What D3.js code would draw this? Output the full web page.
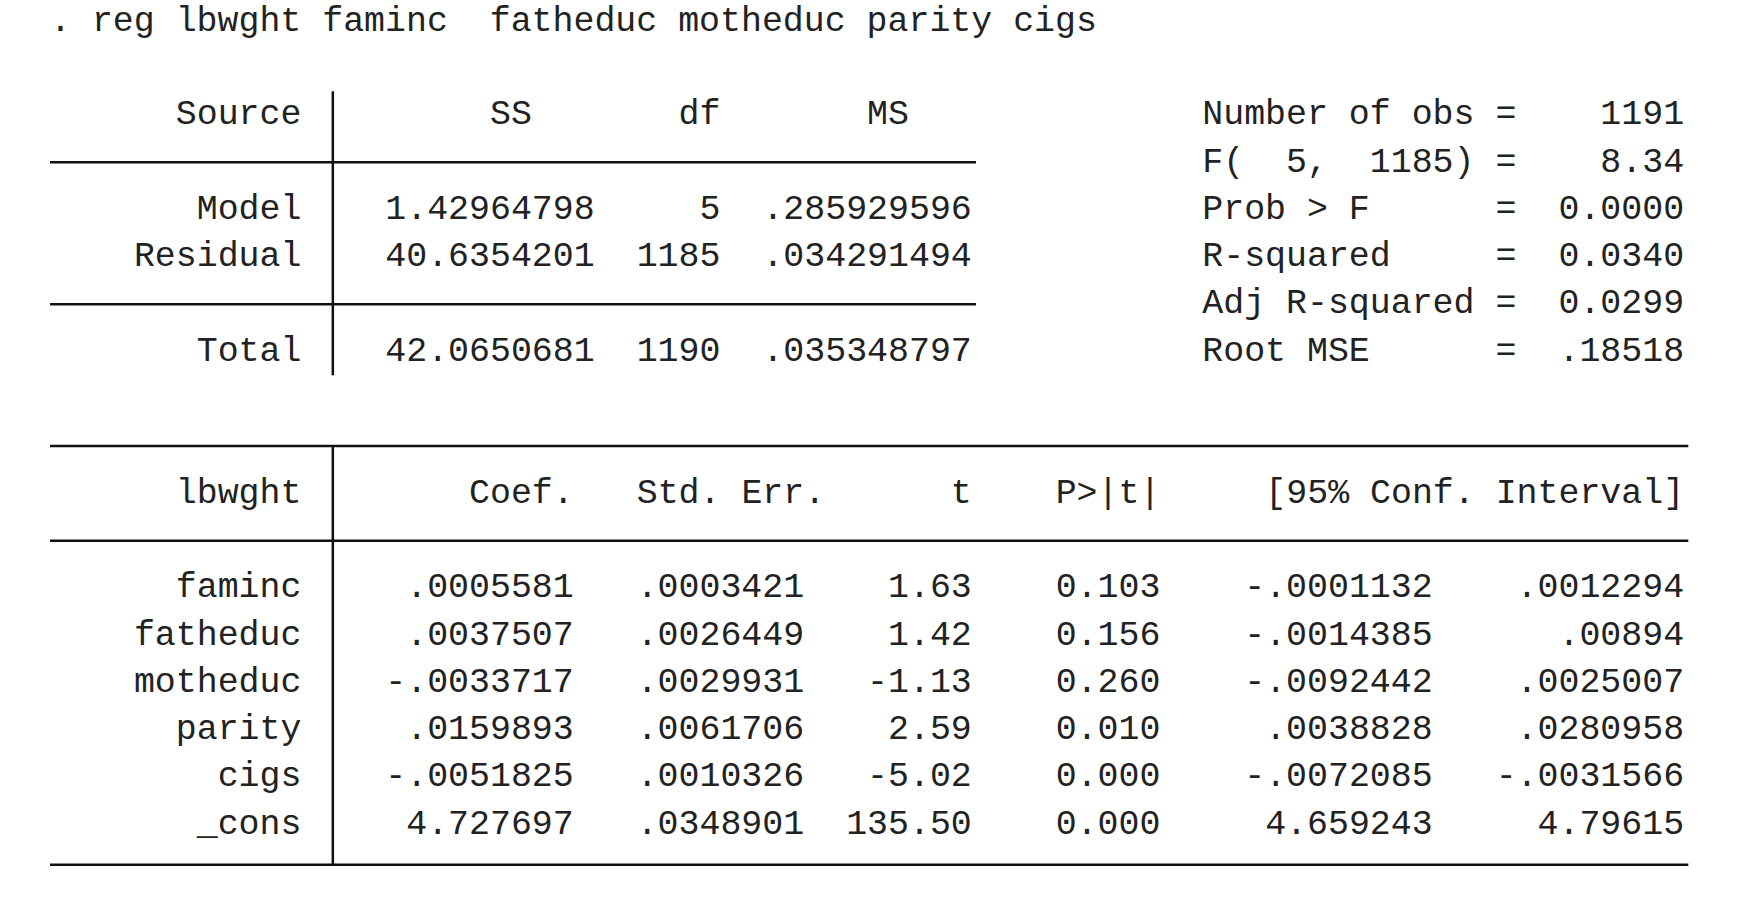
<!DOCTYPE html>
<html><head><meta charset="utf-8">
<script src="https://cdn.jsdelivr.net/npm/d3@7"></script>
<style>
body{margin:0;background:#fff;}
text{font-family:"Courier New","Liberation Mono",monospace;font-size:34.9px;fill:#222;white-space:pre;}
</style></head><body>
<svg id="c" width="1742" height="918"></svg>
<script>
var command = ". reg lbwght faminc  fatheduc motheduc parity cigs";

var anovaSources = ["Model", "Residual", "Total"];
var anovaSS = ["1.42964798", "40.6354201", "42.0650681"];
var anovaDF = ["5", "1185", "1190"];
var anovaMS = [".285929596", ".034291494", ".035348797"];

var statLabels = ["Number of obs =", "F(  5,  1185) =", "Prob > F      =", "R-squared     =", "Adj R-squared =", "Root MSE      ="];
var statValues = ["1191", "8.34", "0.0000", "0.0340", "0.0299", ".18518"];

var coefNames = ["faminc", "fatheduc", "motheduc", "parity", "cigs", "_cons"];
var coef = [".0005581", ".0037507", "-.0033717", ".0159893", "-.0051825", "4.727697"];
var stdErr = [".0003421", ".0026449", ".0029931", ".0061706", ".0010326", ".0348901"];
var tStat = ["1.63", "1.42", "-1.13", "2.59", "-5.02", "135.50"];
var pVal = ["0.103", "0.156", "0.260", "0.010", "0.000", "0.000"];
var ciLow = ["-.0001132", "-.0014385", "-.0092442", ".0038828", "-.0072085", "4.659243"];
var ciHigh = [".0012294", ".00894", ".0025007", ".0280958", "-.0031566", "4.79615"];

var svg = d3.select("#c");
// monospace column grid -> pixels
var col = d3.scaleLinear().domain([0, 78]).range([50, 50 + 78 * 20.95]);
// text line grid -> pixels
var row = d3.scaleLinear().domain([0, 1]).range([115, 162.3]);

function put(txt, c, r, anchor){
  svg.append("text").attr("x", col(c)).attr("y", row(r))
    .attr("dominant-baseline", "middle")
    .attr("text-anchor", anchor || "end").text(txt);
}
function hline(c0, c1, r){
  svg.append("line").attr("x1", col(c0)).attr("x2", col(c1))
    .attr("y1", row(r)).attr("y2", row(r)).attr("stroke", "#111").attr("stroke-width", 2.5);
}
function vline(c, r0, r1){
  svg.append("line").attr("x1", col(c)).attr("x2", col(c))
    .attr("y1", row(r0)).attr("y2", row(r1)).attr("stroke", "#111").attr("stroke-width", 2.5);
}

svg.append("text").attr("x", col(0)).attr("y", 22).attr("dominant-baseline", "middle").text(command);

// ANOVA table
put("Source", 12, 0); put("SS", 23, 0); put("df", 32, 0); put("MS", 41, 0);
hline(0, 44.2, 1);
anovaSources.forEach(function(s, i){
  var r = i < 2 ? 2 + i : 5;
  put(s, 12, r); put(anovaSS[i], 26, r); put(anovaDF[i], 32, r); put(anovaMS[i], 44, r);
});
hline(0, 44.2, 4);
vline(13.5, -0.5, 5.5);

// model stats
statLabels.forEach(function(l, i){
  put(l, 55, i, "start"); put(statValues[i], 78, i);
});

// coefficient table
hline(0, 78.2, 7);
put("lbwght", 12, 8); put("Coef.", 25, 8); put("Std. Err.", 37, 8); put("t", 44, 8);
put("P>|t|", 53, 8); put("[95% Conf. Interval]", 78, 8);
hline(0, 78.2, 9);
coefNames.forEach(function(n, i){
  var r = 10 + i;
  put(n, 12, r); put(coef[i], 25, r); put(stdErr[i], 36, r); put(tStat[i], 44, r);
  put(pVal[i], 53, r); put(ciLow[i], 66, r); put(ciHigh[i], 78, r);
});
hline(0, 78.2, 15.85);
vline(13.5, 7, 15.85);
</script></body></html>
